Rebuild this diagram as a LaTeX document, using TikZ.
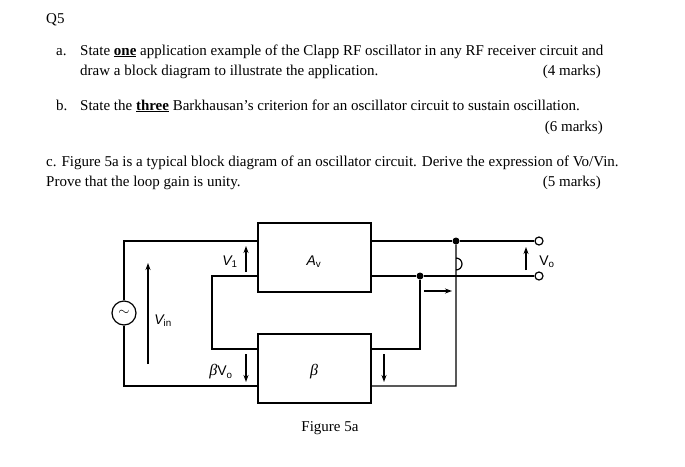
\documentclass[tikz,border=0pt]{standalone}
\usepackage{fontspec}
\usetikzlibrary{arrows.meta}
\setmainfont{Liberation Serif}
\newfontfamily\dsans{Liberation Sans}
\newcommand{\bet}{{\rmfamily\itshape β}}
\begin{document}
\begin{tikzpicture}[x=1pt,y=-1pt,
  txt/.style={anchor=base west,inner sep=0pt,font=\fontsize{15}{17}\selectfont},
  txr/.style={anchor=base east,inner sep=0pt,font=\fontsize{15}{17}\selectfont},
  blk/.style={draw,line width=1.2pt},
  w/.style={line width=1.2pt},
  lab/.style={inner sep=0pt,font=\dsans\fontsize{14}{16}\selectfont},
  arr/.style={line width=1.2pt,-{Stealth[length=7pt,width=5pt]}},
  dot/.style={circle,fill,inner sep=0pt,minimum size=7pt},
  term/.style={circle,draw,line width=1.2pt,inner sep=0pt,minimum size=8pt}]
\useasboundingbox (0,0) rectangle (685,466);
\node[txt] (q) at (46,23) {Q5};
\node[txt] (a1) at (56,55) {a.};
\node[txt] (a2) at (80,55) {State \textbf{\underline{one}} application example of the Clapp RF oscillator in any RF receiver circuit and};
\node[txt] (a3) at (80,75) {draw a block diagram to illustrate the application.};
\node[txr] (a4) at (601,75) {(4 marks)};
\node[txt] (b1) at (56,110) {b.};
\node[txt] (b2) at (80,110) {State the \textbf{\underline{three}} Barkhausan's criterion for an oscillator circuit to sustain oscillation.};
\node[txr] (b3) at (603,131) {(6 marks)};
\node[txt] (c1) at (46,166) {c. Figure 5a is a typical block diagram of an oscillator circuit. Derive the expression of Vo/Vin.};
\node[txt] (c2) at (46,186) {Prove that the loop gain is unity.};
\node[txr] (c3) at (601,186) {(5 marks)};
\node[txt,anchor=base] (fig) at (330,431) {Figure 5a};
% blocks
\node[blk,minimum width=113pt,minimum height=69pt,inner sep=0pt] (av) at (314.5,257.5) {};
\node[blk,minimum width=113pt,minimum height=69pt,inner sep=0pt] (be) at (314.5,368.5) {};
\node[lab] at (314,262) {\itshape A\textsubscript{\upshape v}};
\node[lab,font=\fontsize{16}{18}\selectfont] at (314,372) {\bet};
% source
\node[circle,draw,line width=1.2pt,minimum size=24pt,inner sep=0pt] (src) at (124,313) {\Large$\sim$};
\coordinate (tl) at (124,241); \coordinate (bl) at (124,386);
\draw[w] (src.north) -- (tl) -- (av.west |- tl);
\draw[w] (src.south) -- (bl) -- (be.west |- bl);
\draw[w] (av.west |- 0,276) -- (212,276) -- (212,349) -- (be.west |- 0,349);
% right side
\node[dot] (d1) at (456,241) {};
\node[dot] (d2) at (420,276) {};
\node[term] (t1) at (539,241) {};
\node[term] (t2) at (539,276) {};
\draw[w] (av.east |- d1) -- (d1) -- (t1);
\draw[w] (av.east |- d2) -- (d2) -- (t2);
\draw[w] (d1) -- (456,270) arc (90:-90:6) -- (456,386) -- (be.east |- 0,386);
\draw[w] (d2) -- (420,349) -- (be.east |- 0,349);
% arrows
\draw[arr] (148,364) -- (148,263);
\node[lab] at (163,321) {\itshape V\textsubscript{\upshape in}};
\draw[arr] (246,272) -- (246,246);
\node[lab] at (230,262) {\itshape V\textsubscript{\upshape 1}};
\draw[arr] (246,354) -- (246,382);
\node[lab] at (221,372) {{\fontsize{16}{18}\selectfont\bet}V\textsubscript{o}};
\draw[arr] (384,354) -- (384,382);
\draw[arr] (424,291) -- (452,291);
\draw[arr] (526,270) -- (526,247);
\node[lab] at (547,262) {V\textsubscript{o}};
\end{tikzpicture}
\end{document}
